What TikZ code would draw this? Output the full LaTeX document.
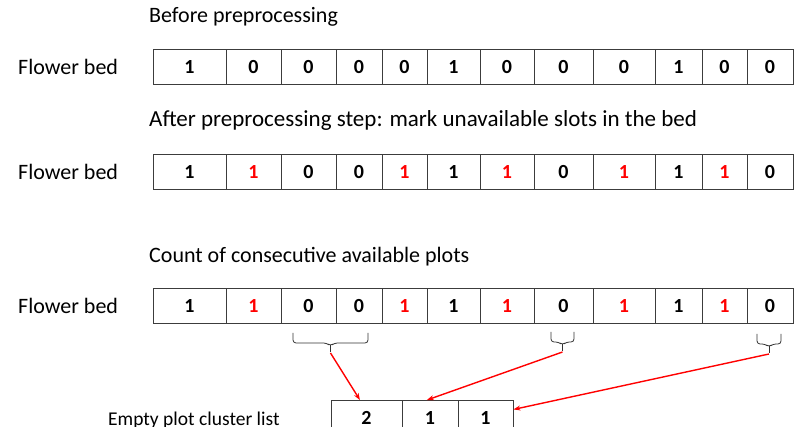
\documentclass[tikz,border=0pt]{standalone}
\usepackage{fontspec}
\setmainfont{Carlito}
\usepackage{tikz}
\usetikzlibrary{positioning,calc,arrows.meta}
\definecolor{markred}{RGB}{255, 0, 0}
\definecolor{gridgray}{RGB}{60, 60, 60}

\begin{document}
\begin{tikzpicture}[x=1pt, y=-1pt,
    cell/.style={draw=gridgray, line width=0.9pt, minimum height=35pt, inner sep=0pt, font=\fontsize{20}{24}\selectfont\bfseries},
    caption/.style={anchor=base west, inner sep=0pt, font=\fontsize{22}{26}\selectfont},
    bracket/.style={draw=black!80, line width=0.8pt, rounded corners=3pt},
    pointer/.style={-{Stealth[length=7pt, width=5pt]}, draw=markred, line width=1.4pt}]
    \useasboundingbox (0,0) rectangle (812,427);

    % titles and row labels
    \node[caption] (title1) at (149,23) {Before preprocessing};
    \node[caption, font=\fontsize{23}{27}\selectfont] (title2) at (149,127) {After preprocessing step: mark unavailable slots in the bed};
    \node[caption] (title3) at (149,263) {Count of consecutive available plots};
    \node[caption] (bed1) at (18,75) {Flower bed};
    \node[caption] (bed2) at (18,180) {Flower bed};
    \node[caption] (bed3) at (18,314) {Flower bed};
    \node[caption, font=\fontsize{19.5}{23}\selectfont] (clusters) at (108,426) {Empty plot cluster list};

    % flower bed before preprocessing
    \foreach \a/\b/\v [count=\i] in {153/226/1, 226/281/0, 281/336/0, 336/382/0, 382/427/0, 427/480/1,
                                     480/534/0, 534/593/0, 593/655/0, 655/702/1, 702/747/0, 747/793/0} {
        \pgfmathsetmacro\w{\b-\a}
        \node[cell, minimum width=\w pt] (before\i) at ({(\a+\b)/2},67) {\v};
    }

    % flower bed after preprocessing, and the counted one
    \foreach \a/\b/\v/\c [count=\i] in {153/226/1/black, 226/281/1/markred, 281/336/0/black, 336/382/0/black,
                                        382/427/1/markred, 427/480/1/black, 480/534/1/markred, 534/593/0/black,
                                        593/655/1/markred, 655/702/1/black, 702/747/1/markred, 747/793/0/black} {
        \pgfmathsetmacro\w{\b-\a}
        \node[cell, text=\c, minimum width=\w pt] (after\i) at ({(\a+\b)/2},172) {\v};
        \node[cell, text=\c, minimum width=\w pt] (count\i) at ({(\a+\b)/2},306) {\v};
    }

    % braces under the free slots
    \foreach \l/\r/\t [count=\i] in {293/368/333, 551/574/332, 757/781/334} {
        \pgfmathsetmacro\m{(\l+\r)/2}
        \draw[bracket] (\l,\t) -- (\l,\t+10) -- (\m-4,\t+10) -- (\m,\t+13) -- (\m+4,\t+10) -- (\r,\t+10) -- (\r,\t);
        \draw[bracket] (\m,\t+12) -- (\m,\t+19);
        \coordinate (tip\i) at (\m,\t+20);
    }

    % cluster list
    \node[cell, minimum width=71pt] (list1) at (366.5,418) {2};
    \node[cell, minimum width=56pt] (list2) at (430,418) {1};
    \node[cell, minimum width=55pt] (list3) at (485.5,418) {1};

    \draw[pointer] (tip1) -- (list1.110);
    \draw[pointer] (tip2) -- (list2.100);
    \draw[pointer] (tip3) -- (list3.17);
\end{tikzpicture}
\end{document}
